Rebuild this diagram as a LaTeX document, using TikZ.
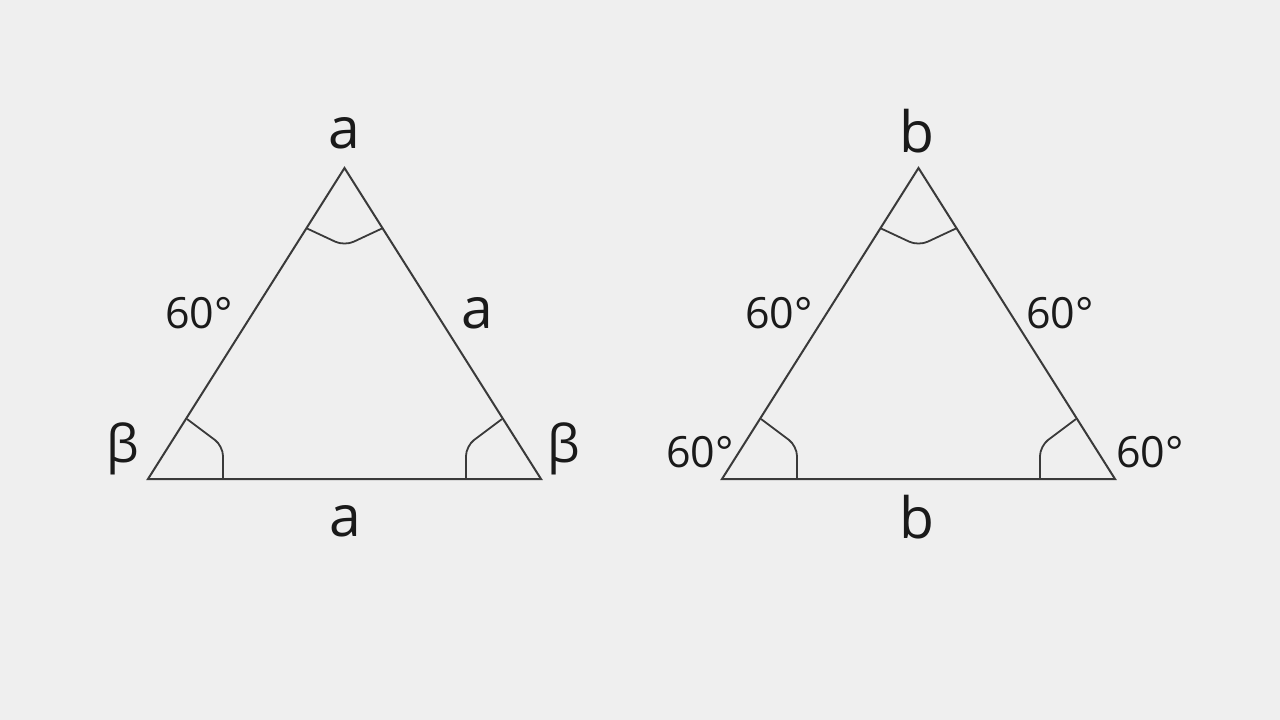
\documentclass[tikz,border=0pt]{standalone}
\usepackage{fontspec}
\setmainfont{Open Sans}
\definecolor{bg}{HTML}{EFEFEF}
\definecolor{ln}{HTML}{3A3A3A}
\definecolor{tx}{HTML}{1A1A1A}
\begin{document}
\begin{tikzpicture}[x=1pt,y=-1pt,
  side/.style={draw=ln,line width=2pt,line join=miter},
  anglemark/.style={draw=ln,line width=1.8pt,rounded corners=10pt},
  big/.style={text=tx,inner sep=0pt,font=\fontsize{57}{66}\selectfont},
  mid/.style={text=tx,inner sep=0pt,font=\fontsize{52}{60}\selectfont},
  deg/.style={text=tx,inner sep=0pt,font=\fontsize{43}{50}\selectfont}]
\fill[bg] (0,0) rectangle (1280,720);
\useasboundingbox (0,0) rectangle (1280,720);
% left triangle
\coordinate (LA) at (344.5,168);
\coordinate (LB) at (148,479);
\coordinate (LC) at (541,479);
\draw[side] (LA) -- (LB) -- (LC) -- cycle;
\draw[anglemark] (306,228) -- (344.5,246) -- (383,228);
\draw[anglemark] (187,419) -- (223,446) -- (223,479);
\draw[anglemark] (502,419) -- (466,446) -- (466,479);
\node[big] (la1) at (344,133) {a};
\node[deg] (la2) at (199,313) {60°};
\node[big] (la3) at (477,313) {a};
\node[mid] (la4) at (123,449) {β};
\node[mid] (la5) at (564,449) {β};
\node[big] (la6) at (345,521) {a};
% right triangle
\coordinate (RA) at (918.5,168);
\coordinate (RB) at (722,479);
\coordinate (RC) at (1115,479);
\draw[side] (RA) -- (RB) -- (RC) -- cycle;
\draw[anglemark] (880,228) -- (918.5,246) -- (957,228);
\draw[anglemark] (761,419) -- (797,446) -- (797,479);
\draw[anglemark] (1076,419) -- (1040,446) -- (1040,479);
\node[big] (rb1) at (917,131) {b};
\node[deg] (rb2) at (779,313) {60°};
\node[deg] (rb3) at (1060,313) {60°};
\node[deg] (rb4) at (700,452) {60°};
\node[deg] (rb5) at (1150,452) {60°};
\node[big] (rb6) at (917,517) {b};
\end{tikzpicture}
\end{document}
